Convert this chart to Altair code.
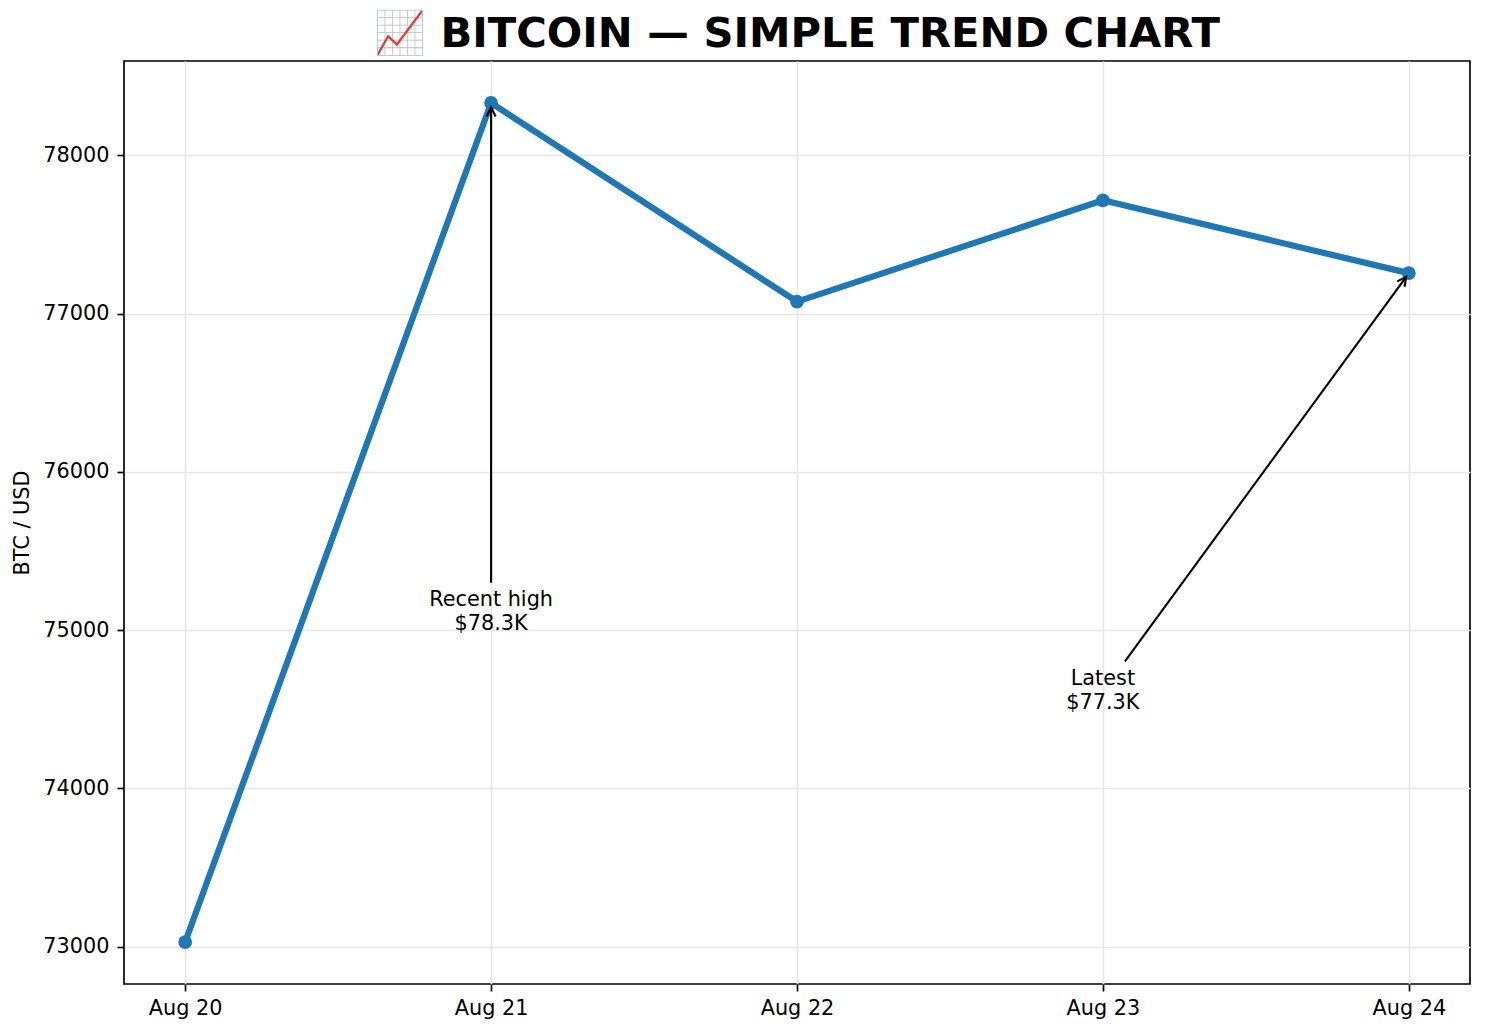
import math
import altair as alt
import pandas as pd

# ---- data ----
dates = ["Aug 20", "Aug 21", "Aug 22", "Aug 23", "Aug 24"]
prices = [73030, 78330, 77075, 77715, 77255]

ann_labels = ["Recent high\n$78.3K", "Latest\n$77.3K"]
ann_target = [1, 4]            # index of the annotated point
ann_text_x = [1, 3]            # text anchor (index)
ann_text_y = [75000, 74500]    # text anchor (price, last-line baseline)
ann_start_x = [1, 3.072]       # arrow tail
ann_start_y = [75300, 74803]

title = "📈 BITCOIN — SIMPLE TREND CHART"
y_ticks = [73000, 74000, 75000, 76000, 77000, 78000]

# ---- layout ----
W, H = 1346, 923
FONT = "DejaVu Sans"
FS = 20.8
BLUE = "#1f77b4"

idx = list(range(len(dates)))
# matplotlib-like 5% margins
xmin, xmax = min(idx), max(idx)
xpad = (xmax - xmin) * 0.05
xdom = [xmin - xpad, xmax + xpad]
ymin, ymax = min(prices), max(prices)
ypad = (ymax - ymin) * 0.05
ydom = [ymin - ypad, ymax + ypad]

def px(x):
    return (x - xdom[0]) / (xdom[1] - xdom[0]) * W

def py(y):
    return H - (y - ydom[0]) / (ydom[1] - ydom[0]) * H

def inv_x(p):
    return xdom[0] + p / W * (xdom[1] - xdom[0])

def inv_y(p):
    return ydom[0] + (H - p) / H * (ydom[1] - ydom[0])

df = pd.DataFrame({"idx": idx, "price": prices, "date": dates})

rows = []
for lab, t, tx, ty, sx, sy in zip(ann_labels, ann_target, ann_text_x, ann_text_y, ann_start_x, ann_start_y):
    tgt_x, tgt_y = idx[t], prices[t]
    x0, y0 = px(sx), py(sy)
    x1, y1 = px(tgt_x), py(tgt_y)
    dx, dy = x1 - x0, y1 - y0
    L = math.hypot(dx, dy)
    shrink = 4.5
    ex, ey = x1 - dx / L * shrink, y1 - dy / L * shrink
    ang = math.degrees(math.atan2(dx, -dy)) % 360
    rows.append({
        "label": lab, "tx": tx, "ty": ty,
        "sx": sx, "sy": sy,
        "ex": inv_x(ex), "ey": inv_y(ey),
        "angle": ang,
    })
ann = pd.DataFrame(rows)

label_expr = "[" + ",".join('"%s"' % d for d in dates) + "][datum.value]"

xscale = alt.Scale(domain=xdom, nice=False, zero=False)
yscale = alt.Scale(domain=ydom, nice=False, zero=False)

xax = alt.Axis(values=idx, labelExpr=label_expr, title=None, grid=True,
               labelPadding=7)
yax = alt.Axis(values=y_ticks, format="d", title="BTC / USD", grid=True,
               labelPadding=8, titleAngle=270, titleX=-102, titleY=H / 2,
               titleBaseline="middle", titleFontSize=FS, titleFontWeight="normal",
               titleColor="black", titleFont=FONT)

base = alt.Chart(df)
line = base.mark_line(color=BLUE, strokeWidth=6.25).encode(
    x=alt.X("idx:Q", scale=xscale, axis=xax),
    y=alt.Y("price:Q", scale=yscale, axis=yax),
)
pts = base.mark_point(filled=True, color=BLUE, size=190, opacity=1).encode(
    x=alt.X("idx:Q", scale=xscale),
    y=alt.Y("price:Q", scale=yscale),
)

abase = alt.Chart(ann)
arrows = abase.mark_rule(color="black", strokeWidth=2.1).encode(
    x=alt.X("sx:Q", scale=xscale),
    y=alt.Y("sy:Q", scale=yscale),
    x2="ex:Q",
    y2="ey:Q",
)
heads = abase.mark_point(shape="M-0.5,1L0,0L0.5,1", filled=False, color="black",
                         strokeWidth=2.1, size=324, opacity=1).encode(
    x=alt.X("ex:Q", scale=xscale),
    y=alt.Y("ey:Q", scale=yscale),
    angle=alt.Angle("angle:Q", scale=None),
)
texts = abase.mark_text(font=FONT, fontSize=FS, color="black", align="center",
                        baseline="alphabetic", lineBreak="\n", lineHeight=24.5,
                        dy=-24.5).encode(
    x=alt.X("tx:Q", scale=xscale),
    y=alt.Y("ty:Q", scale=yscale),
    text="label:N",
)

title_df = pd.DataFrame({"t": [title]})
title_mark = alt.Chart(title_df).mark_text(
    font=FONT, fontSize=41.7, fontWeight="bold", color="black",
    align="center", baseline="alphabetic",
).encode(x=alt.value(W / 2), y=alt.value(-14), text="t:N")

chart = alt.layer(line, pts, arrows, heads, texts, title_mark).properties(
    width=W, height=H,
    autosize=alt.AutoSizeParams(type="none"),
    padding={"left": 116, "top": 53, "right": 7, "bottom": 43},
).configure(font=FONT).configure_axis(
    labelFont=FONT, labelFontSize=FS, labelColor="black",
    tickColor="black", tickWidth=1.67, tickSize=7,
    gridColor="#e7e7e7", gridWidth=1.67, domain=False,
).configure_view(stroke="black", strokeWidth=1.67)

chart.save("out.html", embed_options={"renderer": "svg", "actions": False})
